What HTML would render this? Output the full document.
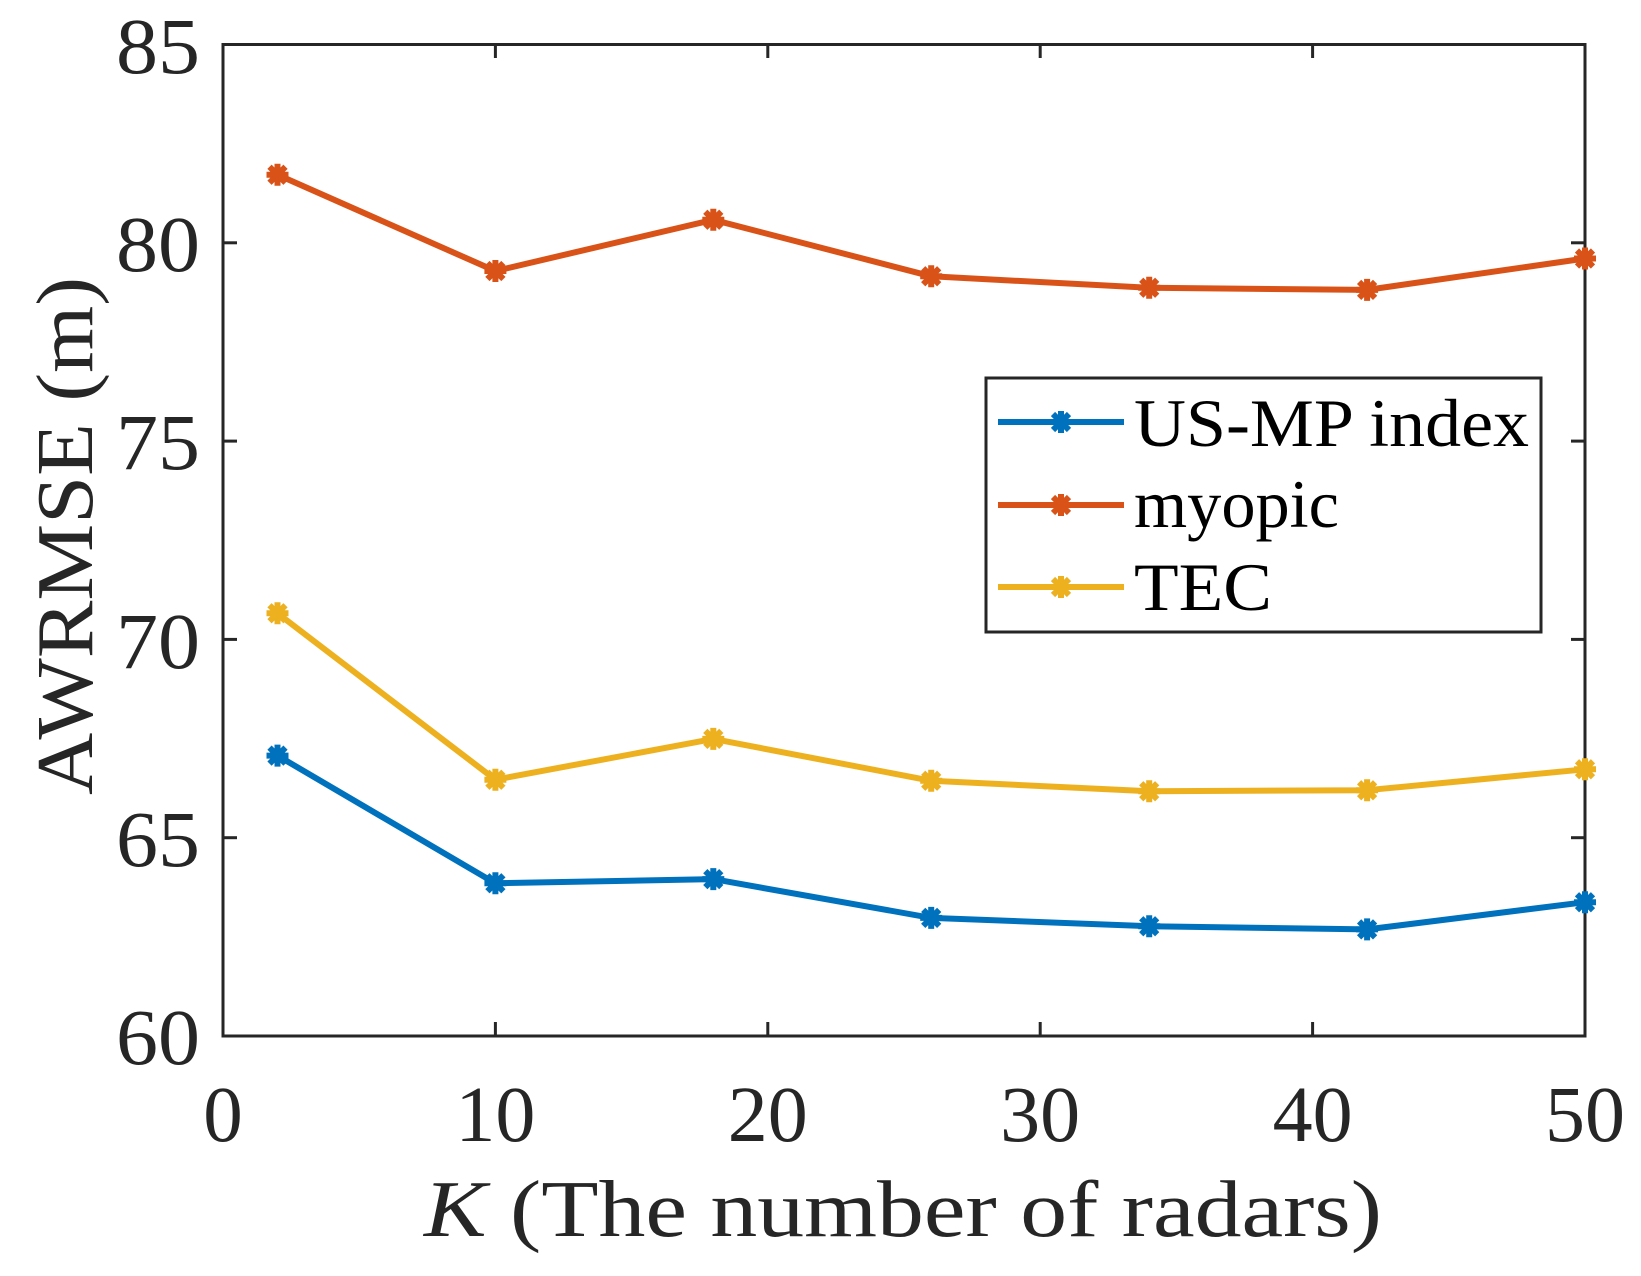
<!DOCTYPE html>
<html><head><meta charset="utf-8"><style>html,body{margin:0;padding:0;background:#fff;}svg{display:block}</style></head>
<body>
<svg width="1641" height="1276" viewBox="0 0 1641 1276" xmlns="http://www.w3.org/2000/svg" font-family="'Liberation Serif', serif" fill="#262626">
<defs>
<g id="m"><path d="M-11,0H11M0,-11V11M-8,-8L8,8M-8,8L8,-8" stroke-width="6" fill="none"/></g>
</defs>
<rect x="223" y="44.5" width="1362" height="991.5" fill="none" stroke="#262626" stroke-width="3"/>
<g stroke="#262626" stroke-width="3">
<line x1="495.4" y1="1036" x2="495.4" y2="1022"/><line x1="767.8" y1="1036" x2="767.8" y2="1022"/><line x1="1040.2" y1="1036" x2="1040.2" y2="1022"/><line x1="1312.6" y1="1036" x2="1312.6" y2="1022"/>
<line x1="495.4" y1="44.5" x2="495.4" y2="58"/><line x1="767.8" y1="44.5" x2="767.8" y2="58"/><line x1="1040.2" y1="44.5" x2="1040.2" y2="58"/><line x1="1312.6" y1="44.5" x2="1312.6" y2="58"/>
<line x1="223" y1="242.8" x2="237" y2="242.8"/><line x1="223" y1="441.1" x2="237" y2="441.1"/><line x1="223" y1="639.4" x2="237" y2="639.4"/><line x1="223" y1="837.7" x2="237" y2="837.7"/>
<line x1="1585" y1="242.8" x2="1571" y2="242.8"/><line x1="1585" y1="441.1" x2="1571" y2="441.1"/><line x1="1585" y1="639.4" x2="1571" y2="639.4"/><line x1="1585" y1="837.7" x2="1571" y2="837.7"/>
</g>
<g font-size="79" text-anchor="end">
<text x="200" y="73" textLength="84" lengthAdjust="spacingAndGlyphs">85</text>
<text x="200" y="271" textLength="84" lengthAdjust="spacingAndGlyphs">80</text>
<text x="200" y="469" textLength="84" lengthAdjust="spacingAndGlyphs">75</text>
<text x="200" y="668" textLength="84" lengthAdjust="spacingAndGlyphs">70</text>
<text x="200" y="866" textLength="84" lengthAdjust="spacingAndGlyphs">65</text>
<text x="200" y="1064" textLength="84" lengthAdjust="spacingAndGlyphs">60</text>
</g>
<g font-size="79" text-anchor="middle">
<text x="223" y="1141">0</text>
<text x="495.4" y="1141" textLength="80" lengthAdjust="spacingAndGlyphs">10</text>
<text x="767.8" y="1141" textLength="80" lengthAdjust="spacingAndGlyphs">20</text>
<text x="1040.2" y="1141" textLength="80" lengthAdjust="spacingAndGlyphs">30</text>
<text x="1312.6" y="1141" textLength="80" lengthAdjust="spacingAndGlyphs">40</text>
<text x="1585" y="1141" textLength="80" lengthAdjust="spacingAndGlyphs">50</text>
</g>
<text x="424" y="1236" font-size="80" textLength="958" lengthAdjust="spacingAndGlyphs"><tspan font-style="italic">K</tspan> (The number of radars)</text>
<text transform="translate(92,536) rotate(-90)" font-size="80" text-anchor="middle" textLength="518" lengthAdjust="spacingAndGlyphs">AWRMSE (m)</text>
<g fill="none" stroke-width="6" stroke-linejoin="round">
<polyline stroke="#D95319" points="277.5,174.8 495.4,271 713.3,219.8 931.2,276.3 1149.2,287.8 1367.1,289.9 1585,258.5"/>
<polyline stroke="#EDB120" points="277.5,613.3 495.4,779.7 713.3,738.9 931.2,780.8 1149.2,791.2 1367.1,790.2 1585,769.3"/>
<polyline stroke="#0072BD" points="277.5,755.6 495.4,883.3 713.3,879.1 931.2,917.9 1149.2,926.2 1367.1,929.4 1585,902.2"/>
</g>
<g stroke="#D95319"><use href="#m" x="277.5" y="174.8"/><use href="#m" x="495.4" y="271"/><use href="#m" x="713.3" y="219.8"/><use href="#m" x="931.2" y="276.3"/><use href="#m" x="1149.2" y="287.8"/><use href="#m" x="1367.1" y="289.9"/><use href="#m" x="1585" y="258.5"/></g>
<g stroke="#EDB120"><use href="#m" x="277.5" y="613.3"/><use href="#m" x="495.4" y="779.7"/><use href="#m" x="713.3" y="738.9"/><use href="#m" x="931.2" y="780.8"/><use href="#m" x="1149.2" y="791.2"/><use href="#m" x="1367.1" y="790.2"/><use href="#m" x="1585" y="769.3"/></g>
<g stroke="#0072BD"><use href="#m" x="277.5" y="755.6"/><use href="#m" x="495.4" y="883.3"/><use href="#m" x="713.3" y="879.1"/><use href="#m" x="931.2" y="917.9"/><use href="#m" x="1149.2" y="926.2"/><use href="#m" x="1367.1" y="929.4"/><use href="#m" x="1585" y="902.2"/></g>
<rect x="986" y="378" width="555" height="254" fill="#fff" stroke="#262626" stroke-width="3"/>
<g stroke-width="6">
<line x1="998" y1="422" x2="1124" y2="422" stroke="#0072BD"/><use href="#m" x="1061" y="422" stroke="#0072BD"/>
<line x1="998" y1="505" x2="1124" y2="505" stroke="#D95319"/><use href="#m" x="1061" y="505" stroke="#D95319"/>
<line x1="998" y1="587" x2="1124" y2="587" stroke="#EDB120"/><use href="#m" x="1061" y="587" stroke="#EDB120"/>
</g>
<g font-size="68" fill="#000">
<text x="1134" y="446" textLength="395" lengthAdjust="spacingAndGlyphs">US-MP index</text>
<text x="1134" y="527" textLength="205" lengthAdjust="spacingAndGlyphs">myopic</text>
<text x="1134" y="610" textLength="138" lengthAdjust="spacingAndGlyphs">TEC</text>
</g>
</svg>
</body></html>
